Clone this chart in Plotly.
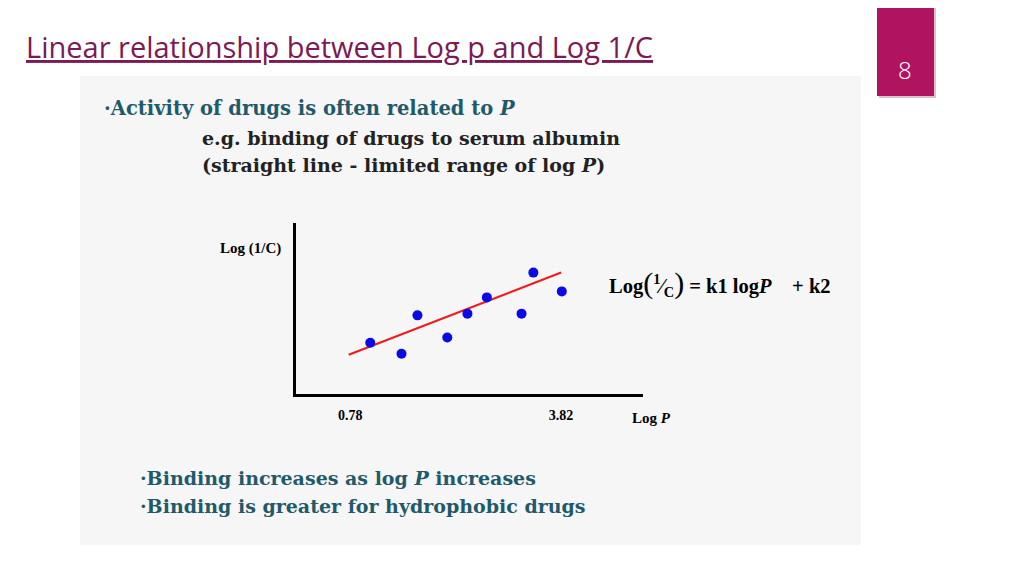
import plotly.graph_objects as go

# data
log_p = [1.07, 1.52, 1.75, 2.18, 2.47, 2.75, 3.25, 3.42, 3.83]
log_inv_c = [3.0, 2.35, 4.6, 3.3, 4.7, 5.65, 4.7, 7.1, 6.0]
fit_x = [0.76, 3.82]
fit_y = [2.3, 7.1]
tick_vals = [0.78, 3.82]
tick_text = ["<b>0.78</b>", "<b>3.82</b>"]

# page body has an 8px margin, so the figure is made 8px smaller
OFF = 8
W, H = 1024 - OFF, 576 - OFF


def px(x):
    return (x - OFF) / W


def py(y):
    return 1 - (y - OFF) / H


serif = "Liberation Serif"
wide = "DejaVu Serif"
teal = "#1f5a6b"
NB = "\u00a0"

fig = go.Figure()

fig.add_trace(go.Scatter(x=fit_x, y=fit_y, mode="lines",
                         line=dict(color="#ee1c1c", width=2.2),
                         hoverinfo="skip", showlegend=False))
fig.add_trace(go.Scatter(x=log_p, y=log_inv_c, mode="markers",
                         marker=dict(color="#0a0ae6", size=10),
                         showlegend=False))

fig.update_xaxes(domain=[px(296), px(643)], range=[0, 5],
                 showline=True, linecolor="black", linewidth=2.5,
                 showgrid=False, zeroline=False,
                 tickvals=tick_vals, ticktext=tick_text,
                 ticks="outside", ticklen=6, tickcolor="rgba(0,0,0,0)",
                 tickfont=dict(family=serif, size=14, color="black"))
fig.update_yaxes(domain=[py(394), py(223)], range=[0, 10],
                 showline=True, linecolor="black", linewidth=2.5,
                 showgrid=False, zeroline=False, showticklabels=False)

shapes = [
    # picture panel
    dict(type="rect", xref="paper", yref="paper", layer="below",
         x0=px(80), x1=px(861), y0=py(545), y1=py(76),
         fillcolor="#f6f6f6", line=dict(width=0)),
    # slide number tab
    dict(type="rect", xref="paper", yref="paper",
         x0=px(879), x1=px(936), y0=py(98), y1=py(0),
         fillcolor="#d9c0cc", line=dict(width=0)),
    dict(type="rect", xref="paper", yref="paper",
         x0=px(877), x1=px(934), y0=py(96), y1=py(0),
         fillcolor="#b0135f", line=dict(width=0)),
]


def note(text, x, y, size, color="black", family=serif, xanchor="left", weight=None):
    f = dict(family=family, size=size, color=color)
    if weight:
        f["weight"] = weight
    return dict(text=text, x=px(x), y=py(y), xref="paper", yref="paper",
                xanchor=xanchor, yanchor="middle", showarrow=False, font=f)


big = "<span style='font-size:30px;font-weight:normal'>%s</span>"
equation = ("<b>Log" + big % "(" + "<sup>1</sup>⁄<sub>C</sub>" + big % ")"
            + " = k1 log<i>P</i>" + NB * 4 + "+ k2</b>")

annotations = [
    note("<u>Linear relationship between Log p and Log 1/C</u>", 24, 46, 29,
         color="#7b1a55", family="Open Sans"),
    note("8", 905, 69, 24, color="white", family="Open Sans", xanchor="center", weight=300),
    note("<b>·Activity of drugs is often related to <i>P</i></b>", 102, 108, 19.5,
         color=teal, family=wide),
    note("<b>e.g. binding of drugs to serum albumin</b>", 200, 138, 19,
         color="#222222", family=wide),
    note("<b>(straight line - limited range of log <i>P</i>)</b>", 200, 165, 19,
         color="#222222", family=wide),
    note("<b>Log (1/C)</b>", 218, 248, 15),
    note("<b>Log <i>P</i></b>", 630, 418, 15),
    note(equation, 607, 283, 20.5),
    note("<b>·Binding increases as log <i>P</i> increases</b>", 138, 478, 19,
         color=teal, family=wide),
    note("<b>·Binding is greater for hydrophobic drugs</b>", 138, 506, 19,
         color=teal, family=wide),
]

fig.update_layout(width=W, height=H, margin=dict(l=0, r=0, t=0, b=0),
                  paper_bgcolor="white", plot_bgcolor="rgba(0,0,0,0)",
                  shapes=shapes, annotations=annotations, showlegend=False)

fig.write_html("out.html")
